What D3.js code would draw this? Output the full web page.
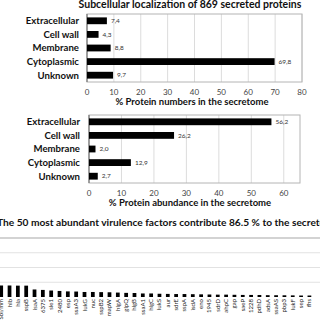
<!DOCTYPE html>
<html>
<head>
<meta charset="utf-8">
<script src="https://cdn.jsdelivr.net/npm/d3@7"></script>
<style>
  body { margin: 0; background: #fff; }
  svg { display: block; font-family: Lato, "Open Sans", sans-serif; }
</style>
</head>
<body>
<svg id="chart" width="320" height="320"></svg>
<script>
// data
let categories = ["Extracellular", "Cell wall", "Membrane", "Cytoplasmic", "Unknown"];
let numberValues = [7.4, 4.3, 8.8, 69.8, 9.7];
let numberLabels = ["7,4", "4,3", "8,8", "69,8", "9,7"];
let abundanceValues = [56.2, 26.2, 2.0, 12.9, 2.7];
let abundanceLabels = ["56,2", "26,2", "2,0", "12,9", "2,7"];
let numberTicks = [0, 10, 20, 30, 40, 50, 60, 70, 80];
let abundanceTicks = [0, 10, 20, 30, 40, 50, 60];

let factors = ["Sbi/mm", "hlb", "hla", "sspB", "isaA", "6375", "sle1", "2480", "esp", "ssaA3",
  "lukG", "nuc", "sspB2", "mapW", "hlgA", "glpQ", "hlgB", "ssaA1", "hlgC", "lukS",
  "aur", "sdrE", "sspA", "isdA", "eno", "1945", "sdrD", "ahpC", "gap", "saeP",
  "1228", "pdhD", "adsA", "ssaAS", "pbp3", "lukF", "sep", "fhs"];
let factorValues = [3.9, 3.9, 3.85, 3.85, 2.55, 2.4, 2.2, 2.05, 1.9, 1.85,
  1.7, 1.7, 1.65, 1.6, 1.5, 1.4, 1.35, 1.2, 1.2, 1.1,
  1.05, 1.0, 1.0, 0.95, 0.9, 0.85, 0.8, 0.8, 0.75, 0.7,
  0.7, 0.68, 0.62, 0.6, 0.58, 0.55, 0.5, 0.5];
let factorTicks = [5, 10, 15];

let svg = d3.select("#chart");

// horizontal bar panel
function barPanel(opt) {
  let x = d3.scaleLinear().domain(opt.domain).range([opt.left, opt.right]);
  let y = d3.scaleBand().domain(categories).range([opt.top, opt.bottom]).paddingInner(0.5).paddingOuter(0.25);
  let g = svg.append("g");

  g.selectAll(".grid").data(opt.ticks.slice(1)).enter().append("line")
    .attr("x1", d => x(d)).attr("x2", d => x(d))
    .attr("y1", opt.top).attr("y2", opt.bottom)
    .attr("stroke", "#dcdcdc").attr("stroke-width", 1);

  g.append("rect")
    .attr("x", opt.left).attr("y", opt.top)
    .attr("width", opt.right - opt.left).attr("height", opt.bottom - opt.top)
    .attr("fill", "none").attr("stroke", "#b4b4b4").attr("stroke-width", 1);

  g.append("line")
    .attr("x1", opt.left).attr("x2", opt.left)
    .attr("y1", opt.top).attr("y2", opt.bottom)
    .attr("stroke", "#777").attr("stroke-width", 1.2);

  g.selectAll(".bar").data(opt.values).enter().append("rect")
    .attr("x", opt.left)
    .attr("y", (d, i) => y(categories[i]))
    .attr("width", d => x(d) - opt.left)
    .attr("height", y.bandwidth())
    .attr("fill", "#000");

  g.selectAll(".val").data(opt.values).enter().append("text")
    .attr("x", d => x(d) + 4)
    .attr("y", (d, i) => y(categories[i]) + y.bandwidth() / 2 + 2.2)
    .attr("font-size", 6.5).attr("fill", "#333")
    .text((d, i) => opt.labels[i]);

  g.selectAll(".cat").data(categories).enter().append("text")
    .attr("x", opt.labelX)
    .attr("y", d => y(d) + y.bandwidth() / 2 + 3.3)
    .attr("text-anchor", "end")
    .attr("font-size", 9.6).attr("font-weight", "bold").attr("fill", "#111")
    .text(d => d);

  g.selectAll(".tick").data(opt.ticks).enter().append("text")
    .attr("x", d => x(d))
    .attr("y", opt.bottom + 12.5)
    .attr("text-anchor", "middle")
    .attr("font-size", 8).attr("fill", "#444")
    .text(d => d);

  g.append("text")
    .attr("x", opt.titleX).attr("y", opt.bottom + 22.5)
    .attr("text-anchor", "middle")
    .attr("font-size", 9.5).attr("font-weight", "bold").attr("fill", "#111")
    .text(opt.axisTitle);
}

svg.append("text")
  .attr("x", 190).attr("y", 8)
  .attr("text-anchor", "middle")
  .attr("font-size", 10.5).attr("font-weight", "bold").attr("fill", "#111")
  .text("Subcellular localization of 869 secreted proteins");

barPanel({
  domain: [0, 80], left: 87, right: 302, top: 14, bottom: 82,
  ticks: numberTicks, values: numberValues, labels: numberLabels,
  labelX: 79, titleX: 192, axisTitle: "% Protein numbers in the secretome"
});

barPanel({
  domain: [0, 65], left: 89, right: 300, top: 115, bottom: 183,
  ticks: abundanceTicks, values: abundanceValues, labels: abundanceLabels,
  labelX: 80, titleX: 190, axisTitle: "% Protein abundance in the secretome"
});

// bottom: virulence factor columns (cropped at the edges)
svg.append("text")
  .attr("x", -3).attr("y", 226)
  .attr("font-size", 10.2).attr("font-weight", "bold").attr("fill", "#111")
  .text("The 50 most abundant virulence factors contribute 86.5 % to the secretome");

let fx = d3.scaleBand().domain(factors)
  .range([1.2 - 8.33 / 2, 1.2 - 8.33 / 2 + 8.33 * factors.length])
  .paddingInner(0.55).paddingOuter(0.275);
let fy = d3.scaleLinear().domain([0, 20]).range([297, 238]);

let fg = svg.append("g");
fg.selectAll(".grid").data(factorTicks).enter().append("line")
  .attr("x1", 0).attr("x2", 320)
  .attr("y1", d => fy(d)).attr("y2", d => fy(d))
  .attr("stroke", "#e2e2e2").attr("stroke-width", 1);
fg.append("line")
  .attr("x1", 0).attr("x2", 320)
  .attr("y1", fy(20)).attr("y2", fy(20))
  .attr("stroke", "#c4c4c4").attr("stroke-width", 1.5);

fg.selectAll(".bar").data(factorValues).enter().append("rect")
  .attr("x", (d, i) => fx(factors[i]))
  .attr("y", d => fy(d))
  .attr("width", fx.bandwidth())
  .attr("height", d => fy(0) - fy(d))
  .attr("fill", "#000");

fg.selectAll(".lab").data(factors).enter().append("text")
  .attr("transform", d => "translate(" + (fx(d) + fx.bandwidth() / 2 + 2) + "," + 299 + ") rotate(-90)")
  .attr("text-anchor", "end")
  .attr("font-size", 6).attr("fill", "#222")
  .text(d => d);
</script>
</body>
</html>
